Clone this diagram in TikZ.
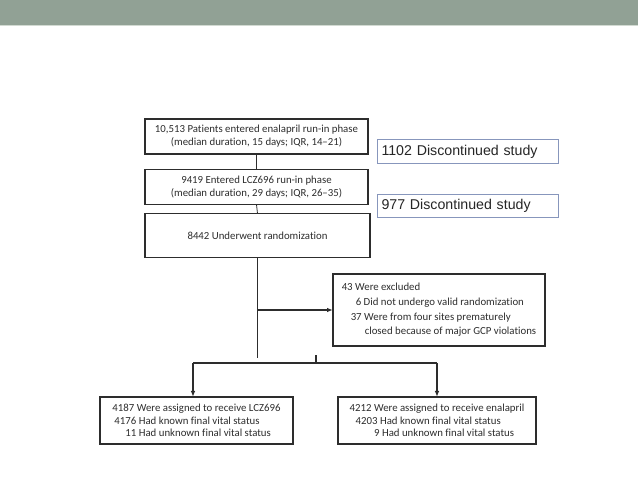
\documentclass[tikz,border=0pt]{standalone}
\usepackage{fontspec}
\setmainfont{Carlito}[Ligatures=NoCommon]
\newfontfamily\arialf{Liberation Sans}
\usetikzlibrary{arrows.meta}
\definecolor{barcol}{RGB}{145,161,149}
\definecolor{barline}{RGB}{210,218,210}
\definecolor{bluebd}{RGB}{135,150,188}
\definecolor{inkc}{RGB}{45,45,45}
\begin{document}
\begin{tikzpicture}[x=1pt,y=-1pt,
  box/.style={draw=inkc, line width=1.1pt, inner sep=0pt, outer sep=0pt, text=inkc,
    font=\fontsize{10.8}{12.8}\selectfont, align=center},
  discbox/.style={draw=bluebd, line width=1pt, inner sep=0pt, outer sep=0pt, text=black!85,
    font=\arialf\fontsize{14.2}{16}\selectfont, text width=172pt, align=left},
  link/.style={draw=inkc, line width=1.1pt},
  thinlink/.style={draw=inkc, line width=0.8pt},
  arr/.style={link, -{Latex[length=6pt,width=4.5pt]}}]
\useasboundingbox (0,0) rectangle (638,478);
\fill[white] (0,0) rectangle (638,478);
\fill[barcol] (0,0) rectangle (638,25);
\fill[barline] (0,25) rectangle (638,26.5);

\node[box, minimum width=223pt, minimum height=35pt] (b1) at (256.5,136.5)
  {10,513 Patients entered enalapril run-in phase\\(median duration, 15 days; IQR, 14--21)};
\node[box, minimum width=223pt, minimum height=35pt] (b2) at (256.5,187)
  {9419 Entered LCZ696 run-in phase\\(median duration, 29 days; IQR, 26--35)};
\node[box, minimum width=225pt, minimum height=44pt] (b3) at (257.5,235.5)
  {8442 Underwent randomization};

\node[discbox, minimum width=181pt, minimum height=23.5pt] (d1) at (467.5,151.5)
  {1102 Discontinued study};
\node[discbox, minimum width=181pt, minimum height=23pt] (d2) at (467.5,206)
  {977 Discontinued study};

\node[box, minimum width=212pt, minimum height=72pt, align=left,
  font=\fontsize{10.8}{14.6}\selectfont] (ex) at (439,310)
  {43 Were excluded\\
   \hspace*{14pt}6 Did not undergo valid randomization\\
   \hspace*{9pt}37 Were from four sites prematurely\\
   \hspace*{23pt}closed because of major GCP violations};

\node[box, minimum width=193pt, minimum height=47pt, align=left,
  font=\fontsize{10.8}{12.6}\selectfont] (b4) at (196.5,420.5)
  {4187 Were assigned to receive LCZ696\\
   \hspace*{2pt}4176 Had known final vital status\\
   \hspace*{2pt}\hphantom{41}11 Had unknown final vital status};
\node[box, minimum width=198pt, minimum height=47pt, align=left,
  font=\fontsize{10.8}{12.6}\selectfont] (b5) at (437,420.5)
  {4212 Were assigned to receive enalapril\\
   \hspace*{6pt}4203 Had known final vital status\\
   \hspace*{8pt}\hphantom{420}9 Had unknown final vital status};

\draw[thinlink] (b1.south) -- (b2.north);
\draw[thinlink] (b2.south) -- (b3.north);
\coordinate (split) at (257.5,358);
\draw[link] (b3.south) -- (split);
\draw[arr] (b3.south |- ex.west) -- (ex.west);
\coordinate (hl) at (193,363);
\coordinate (hr) at (437,363);
\coordinate (hm) at (316,363);
\draw[link] (hl) -- (hr);
\draw[link] (hm) -- ++(0,-8);
\draw[arr] (hl) -- (b4.north -| hl);
\draw[arr] (hr) -- (b5.north -| hr);
\end{tikzpicture}
\end{document}
